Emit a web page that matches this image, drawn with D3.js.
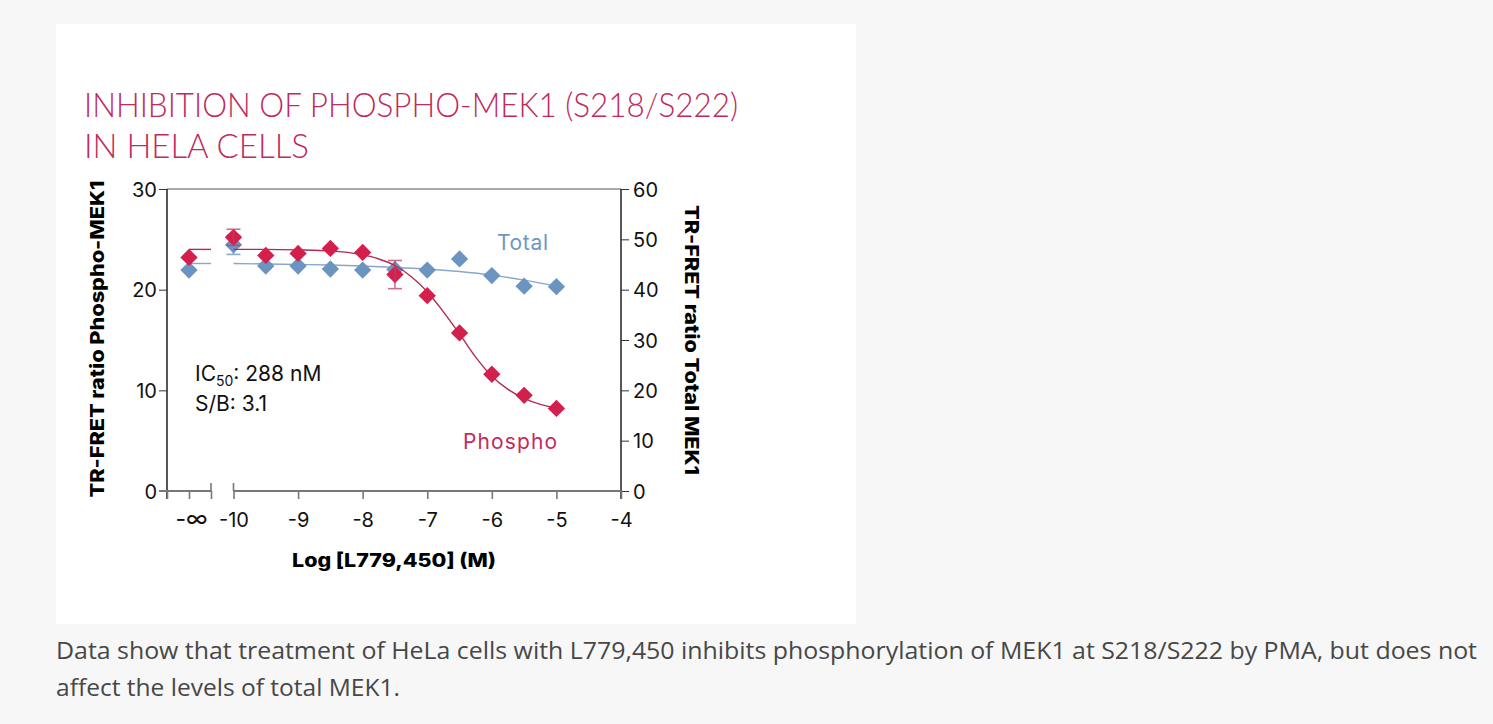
<!DOCTYPE html>
<html lang="en">
<head>
  <meta charset="UTF-8">
  <title>Inhibition of Phospho-MEK1</title>
  <script src="https://d3js.org/d3.v7.min.js"></script>
  <style>
    body { margin: 0; background: #f7f7f7; }
    svg { display: block; }
    .tick-label { font-family: "Inter", "Noto Sans", sans-serif; font-size: 20px; fill: #111; }
    .axis-title { font-family: "Inter", "Noto Sans", sans-serif; font-size: 19px; font-weight: 800; fill: #000; }
  </style>
</head>
<body>
<div class="main"></div>
<script>
  // log concentrations (M) of the finite doses
  var logDose = [-10, -9.5, -9, -8.5, -8, -7.5, -7, -6.5, -6, -5.5, -5];
  // TR-FRET ratio Phospho-MEK1 (left axis)
  var phospho = [25.2, 23.4, 23.6, 24.1, 23.7, 21.5, 19.4, 15.7, 11.6, 9.5, 8.2];
  var phosphoZero = 23.2;
  // TR-FRET ratio Total MEK1 (right axis)
  var total = [48.9, 44.7, 44.7, 44.1, 43.9, 44.0, 43.9, 46.1, 42.8, 40.7, 40.6];
  var totalZero = 43.9;

  // error bars: [logDose, low, high]
  var phosphoErr = [[-10, 24.4, 26.0], [-7.5, 20.1, 22.9]];
  var totalErr = [[-10, 47.0, 50.8]];

  // fitted curves
  var fitDose = [-10, -9.5, -9, -8.5, -8, -7.75, -7.5, -7.25, -7, -6.75, -6.5, -6.25, -6, -5.75, -5.5, -5.25, -5];
  var phosphoFit = [24.0, 24.0, 23.95, 23.85, 23.45, 23.05, 22.4, 21.3, 19.8, 17.8, 15.6, 13.3, 11.4, 10.1, 9.2, 8.6, 8.25];
  var totalFitDose = [-10, -9.5, -9, -8.5, -8, -7.5, -7, -6.5, -6, -5.5, -5];
  var totalFit = [45.2, 45.1, 45.0, 44.9, 44.7, 44.4, 44.1, 43.6, 42.9, 41.9, 40.7];
  var phosphoFitZero = 24.0;
  var totalFitZero = 45.2;

  var xTicks = [-10, -9, -8, -7, -6, -5, -4];
  var leftTicks = [0, 10, 20, 30];
  var rightTicks = [0, 10, 20, 30, 40, 50, 60];

  var red = "#d31f4b", redLine = "#b32a55";
  var blue = "#6c94c1", blueLine = "#88a7cb";

  var width = 1493, height = 724;
  var svg = d3.select(".main").append("svg").attr("width", width).attr("height", height);

  // card
  svg.append("rect").attr("x", 56).attr("y", 24).attr("width", 800).attr("height", 600).attr("fill", "#fff");

  // title
  var title = svg.append("g").style("font-family", "Lato, 'Open Sans', sans-serif").style("font-weight", 300)
    .style("font-size", "33px").style("fill", "#c02a5c");
  title.append("text").attr("x", 84).attr("y", 117).attr("textLength", 654).attr("lengthAdjust", "spacingAndGlyphs").text("INHIBITION OF PHOSPHO-MEK1 (S218/S222)");
  title.append("text").attr("x", 84).attr("y", 158).attr("textLength", 225).attr("lengthAdjust", "spacingAndGlyphs").text("IN HELA CELLS");

  // scales
  var pLeft = 167, pRight = 621, pTop = 189, pBottom = 491;
  var x = d3.scaleLinear().domain([-10, -4]).range([233.5, pRight]);
  var xZero = d3.scaleLinear().domain([0, 2]).range([pLeft, 211]); // broken segment, "-inf" at 1
  var yL = d3.scaleLinear().domain([0, 30]).range([pBottom, pTop]);
  var yR = d3.scaleLinear().domain([0, 60]).range([pBottom, pTop]);

  // top frame line
  svg.append("line").attr("x1", pLeft).attr("x2", pRight).attr("y1", pTop).attr("y2", pTop).attr("stroke", "#555").attr("stroke-width", 1.2);

  // left axis
  var gL = svg.append("g").attr("transform", "translate(" + pLeft + ",0)")
    .call(d3.axisLeft(yL).tickValues(leftTicks).tickSize(8).tickPadding(2));
  gL.select(".domain").attr("stroke", "#111").attr("stroke-width", 1.4).attr("d", "M0," + pTop + "V" + (pBottom + 8));
  gL.selectAll(".tick line").attr("stroke", "#333");
  gL.selectAll(".tick text").attr("class", "tick-label").attr("dy", "0.35em");

  // right axis
  var gR = svg.append("g").attr("transform", "translate(" + pRight + ",0)")
    .call(d3.axisRight(yR).tickValues(rightTicks).tickSize(8).tickPadding(4));
  gR.select(".domain").attr("stroke", "#111").attr("stroke-width", 1.4).attr("d", "M0," + pTop + "V" + (pBottom + 8));
  gR.selectAll(".tick line").attr("stroke", "#333");
  gR.selectAll(".tick text").attr("class", "tick-label").attr("dy", "0.35em");

  // bottom axis, main segment
  var gB = svg.append("g").attr("transform", "translate(0," + pBottom + ")")
    .call(d3.axisBottom(x).tickValues(xTicks).tickSize(8).tickPadding(14).tickFormat(d3.format("d")));
  gB.select(".domain").attr("stroke", "#777").attr("stroke-width", 2.2).attr("d", "M" + x(-10) + ",0H" + pRight);
  gB.selectAll(".tick line").attr("stroke", "#777").attr("stroke-width", 1.6);
  gB.selectAll(".tick text").attr("class", "tick-label").text(function(d) { return d; });
  gB.append("line").attr("x1", x(-10)).attr("x2", x(-10)).attr("y1", -8).attr("y2", 0).attr("stroke", "#777").attr("stroke-width", 1.6);

  // bottom axis, broken segment with -inf
  var gZ = svg.append("g").attr("transform", "translate(0," + pBottom + ")")
    .call(d3.axisBottom(xZero).tickValues([0, 1, 2]).tickSize(8).tickPadding(12).tickFormat(function(d) { return d === 1 ? "-\u221E" : ""; }));
  gZ.select(".domain").attr("stroke", "#777").attr("stroke-width", 2.2).attr("d", "M" + (pLeft - 8) + ",0H" + xZero(2));
  gZ.selectAll(".tick line").attr("stroke", "#777").attr("stroke-width", 1.6);
  gZ.selectAll(".tick text").attr("class", "tick-label").attr("dx", "2px").style("font-size", "23px");
  gZ.append("line").attr("x1", xZero(2)).attr("x2", xZero(2)).attr("y1", -8).attr("y2", 0).attr("stroke", "#777").attr("stroke-width", 1.6);

  // axis titles
  svg.append("text").attr("class", "axis-title").attr("text-anchor", "middle")
    .attr("transform", "translate(104,339) rotate(-90)").attr("textLength", 317).attr("lengthAdjust", "spacingAndGlyphs")
    .text("TR-FRET ratio Phospho-MEK1");
  svg.append("text").attr("class", "axis-title").attr("text-anchor", "middle")
    .attr("transform", "translate(685,340) rotate(90)").attr("textLength", 270).attr("lengthAdjust", "spacingAndGlyphs")
    .text("TR-FRET ratio Total MEK1");
  svg.append("text").attr("class", "axis-title").attr("text-anchor", "middle")
    .attr("x", 394).attr("y", 567).attr("textLength", 204).attr("lengthAdjust", "spacingAndGlyphs")
    .text("Log [L779,450] (M)");

  // fitted lines
  var lineL = d3.line().x(function(d) { return x(d[0]); }).y(function(d) { return yL(d[1]); }).curve(d3.curveMonotoneX);
  var lineR = d3.line().x(function(d) { return x(d[0]); }).y(function(d) { return yR(d[1]); }).curve(d3.curveMonotoneX);

  svg.append("line").attr("x1", xZero(1)).attr("x2", xZero(2)).attr("y1", yR(totalFitZero)).attr("y2", yR(totalFitZero))
    .attr("stroke", blueLine).attr("stroke-width", 1.4);
  svg.append("path").attr("d", lineR(d3.zip(totalFitDose, totalFit))).attr("fill", "none").attr("stroke", blueLine).attr("stroke-width", 1.4);

  // symbols
  var diamond = d3.symbol().type(d3.symbolSquare).size(150);

  function errBars(data, y, color, op) {
    data.forEach(function(e) {
      var g = svg.append("g").attr("stroke", color).attr("stroke-width", 1.6).attr("opacity", op);
      var cx = x(e[0]);
      g.append("line").attr("x1", cx).attr("x2", cx).attr("y1", y(e[1])).attr("y2", y(e[2]));
      g.append("line").attr("x1", cx - 7).attr("x2", cx + 7).attr("y1", y(e[1])).attr("y2", y(e[1]));
      g.append("line").attr("x1", cx - 7).attr("x2", cx + 7).attr("y1", y(e[2])).attr("y2", y(e[2]));
    });
  }

  // total series
  errBars(totalErr, yR, blue, 0.8);
  var totalPts = [[xZero(1), yR(totalZero)]].concat(logDose.map(function(d, i) { return [x(d), yR(total[i])]; }));
  svg.append("g").selectAll("path").data(totalPts).join("path")
    .attr("d", diamond).attr("fill", blue)
    .attr("transform", function(d) { return "translate(" + d[0] + "," + d[1] + ") rotate(45)"; });

  // phospho series
  svg.append("line").attr("x1", xZero(1)).attr("x2", xZero(2)).attr("y1", yL(phosphoFitZero)).attr("y2", yL(phosphoFitZero))
    .attr("stroke", redLine).attr("stroke-width", 1.4);
  svg.append("path").attr("d", lineL(d3.zip(fitDose, phosphoFit))).attr("fill", "none").attr("stroke", redLine).attr("stroke-width", 1.4);
  var phosphoPts = [[xZero(1), yL(phosphoZero)]].concat(logDose.map(function(d, i) { return [x(d), yL(phospho[i])]; }));
  svg.append("g").selectAll("path").data(phosphoPts).join("path")
    .attr("d", diamond).attr("fill", red)
    .attr("transform", function(d) { return "translate(" + d[0] + "," + d[1] + ") rotate(45)"; });
  errBars(phosphoErr, yL, "#b8406a", 0.75);

  // annotations
  var ann = svg.append("g").style("font-family", "Inter, 'Noto Sans', sans-serif").style("font-size", "21px");
  var ic = ann.append("text").attr("x", 195).attr("y", 381).attr("fill", "#111");
  ic.append("tspan").text("IC");
  ic.append("tspan").attr("dy", 5).style("font-size", "14px").text("50");
  ic.append("tspan").attr("dy", -5).text(": 288 nM");
  ann.append("text").attr("x", 195).attr("y", 411).attr("fill", "#111").text("S/B: 3.1");
  ann.append("text").attr("x", 497).attr("y", 250).attr("fill", "#6f96c0").attr("textLength", 51).text("Total");
  ann.append("text").attr("x", 463).attr("y", 449).attr("fill", "#c42a5a").attr("textLength", 94).text("Phospho");

  // caption
  var cap = svg.append("g").style("font-family", "'Open Sans', 'Noto Sans', sans-serif").style("font-size", "24px").style("fill", "#474747");
  cap.append("text").attr("x", 56).attr("y", 659).attr("textLength", 1421).attr("lengthAdjust", "spacingAndGlyphs")
    .text("Data show that treatment of HeLa cells with L779,450 inhibits phosphorylation of MEK1 at S218/S222 by PMA, but does not");
  cap.append("text").attr("x", 56).attr("y", 696).attr("textLength", 344).attr("lengthAdjust", "spacingAndGlyphs").text("affect the levels of total MEK1.");
</script>
</body>
</html>
